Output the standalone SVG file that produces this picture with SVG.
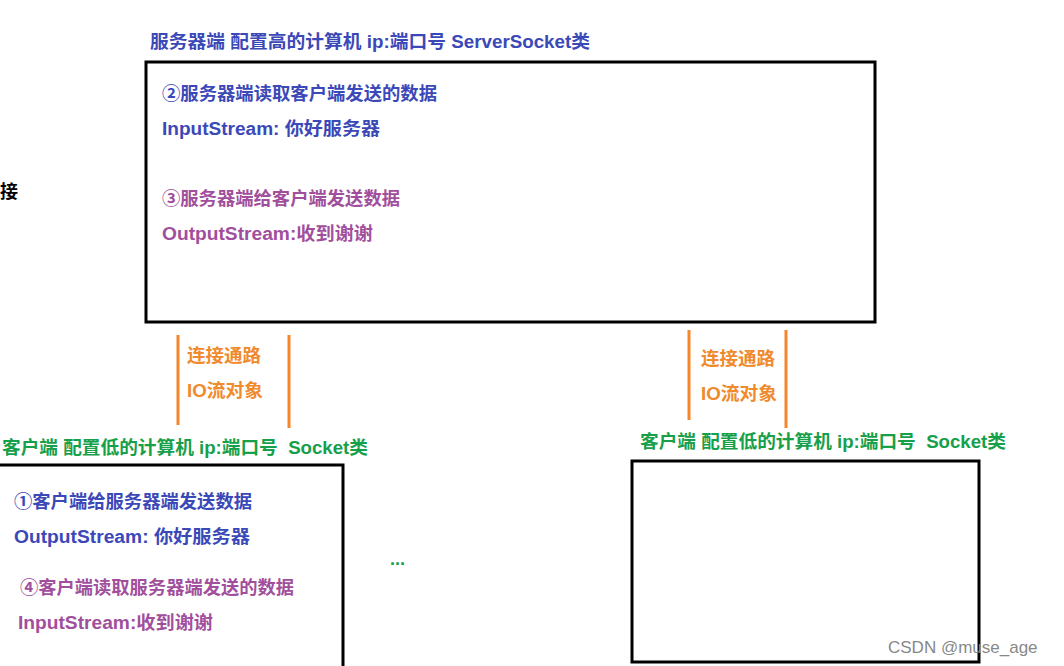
<svg xmlns="http://www.w3.org/2000/svg" width="1064" height="666" viewBox="0 0 1064 666">
<style>
text{font-family:"Liberation Sans","Noto Sans CJK SC",sans-serif;font-weight:bold;font-size:18px}
.b{fill:#3b48b8}.p{fill:#a14f9c}.o{fill:#f08a2c}.g{fill:#17a04a}
.box{fill:#fff;stroke:#000;stroke-width:3}
.ol{stroke:#f5862a;stroke-width:3}
</style>
<rect width="1064" height="666" fill="#fff"/>
<text x="0" y="198" fill="#000">接</text>
<g id="server">
<text class="b" x="150" y="48" textLength="440" lengthAdjust="spacingAndGlyphs">服务器端 配置高的计算机 ip:端口号 ServerSocket类</text>
<rect class="box" x="146" y="62" width="729" height="260"/>
<text class="b" x="162" y="100" textLength="275" lengthAdjust="spacingAndGlyphs">②服务器端读取客户端发送的数据</text>
<text class="b" x="162" y="135" textLength="218" lengthAdjust="spacingAndGlyphs">InputStream: 你好服务器</text>
<text class="p" x="162" y="205" textLength="238" lengthAdjust="spacingAndGlyphs">③服务器端给客户端发送数据</text>
<text class="p" x="162" y="240" textLength="211" lengthAdjust="spacingAndGlyphs">OutputStream:收到谢谢</text>
</g>
<g id="connectors">
<line class="ol" x1="178" y1="335" x2="178" y2="425"/>
<line class="ol" x1="289" y1="335" x2="289" y2="428"/>
<line class="ol" x1="689" y1="330" x2="689" y2="420"/>
<line class="ol" x1="786" y1="330" x2="786" y2="428"/>
<text class="o" x="187" y="362" textLength="74" lengthAdjust="spacingAndGlyphs">连接通路</text>
<text class="o" x="187" y="397" textLength="76" lengthAdjust="spacingAndGlyphs">IO流对象</text>
<text class="o" x="701" y="365" textLength="74" lengthAdjust="spacingAndGlyphs">连接通路</text>
<text class="o" x="701" y="400" textLength="76" lengthAdjust="spacingAndGlyphs">IO流对象</text>
</g>
<g id="client1">
<text class="g" x="2" y="454" textLength="366" lengthAdjust="spacingAndGlyphs" xml:space="preserve">客户端 配置低的计算机 ip:端口号  Socket类</text>
<rect class="box" x="-5" y="465" width="348" height="210"/>
<text class="b" x="14" y="508" textLength="238" lengthAdjust="spacingAndGlyphs">①客户端给服务器端发送数据</text>
<text class="b" x="14" y="543" textLength="236" lengthAdjust="spacingAndGlyphs">OutputStream: 你好服务器</text>
<text class="p" x="20" y="594" textLength="274" lengthAdjust="spacingAndGlyphs">④客户端读取服务器端发送的数据</text>
<text class="p" x="18" y="629" textLength="195" lengthAdjust="spacingAndGlyphs">InputStream:收到谢谢</text>
</g>
<text class="g" x="390" y="565">...</text>
<g id="client2">
<text class="g" x="640" y="448" textLength="366" lengthAdjust="spacingAndGlyphs" xml:space="preserve">客户端 配置低的计算机 ip:端口号  Socket类</text>
<rect class="box" x="632" y="461" width="347" height="201"/>
</g>
<text x="888" y="653" style="font-weight:normal;font-size:17px" fill="#888">CSDN @muse_age</text>
</svg>
